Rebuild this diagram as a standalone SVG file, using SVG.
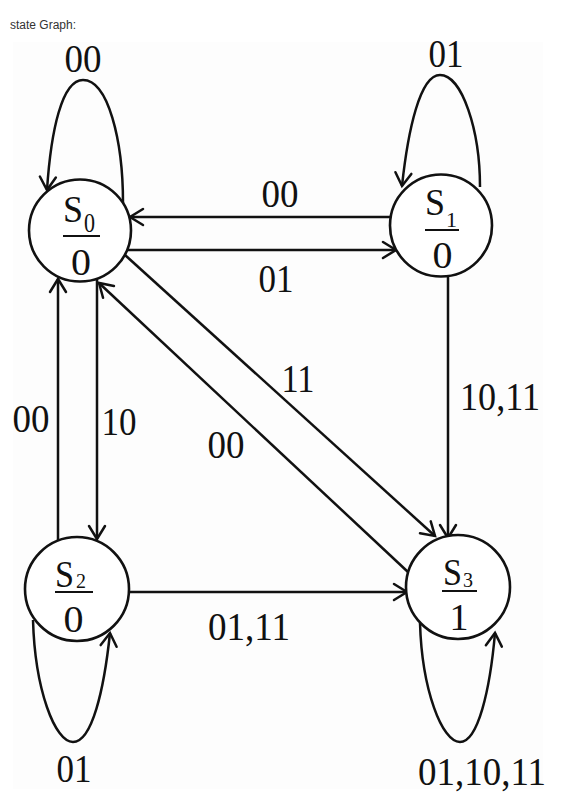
<svg xmlns="http://www.w3.org/2000/svg" width="572" height="803" viewBox="0 0 572 803">
<style>
.title{font-family:"Liberation Sans",Arial,sans-serif;font-size:12px;fill:#333}
.node circle{fill:#fff;stroke:#111;stroke-width:2.6}
.node line{stroke:#111;stroke-width:1.8}
.big{font-family:"Liberation Serif","Times New Roman",serif;font-size:38px;fill:#111}
.sub{font-family:"Liberation Serif","Times New Roman",serif;fill:#111}
.lbl{font-family:"Liberation Serif","Times New Roman",serif;font-size:40px;fill:#111;text-anchor:middle}
.edge{fill:none;stroke:#111;stroke-width:2.5;marker-end:url(#arr)}
</style>
<defs>
<marker id="arr" markerUnits="userSpaceOnUse" viewBox="-16 -10 18 20" refX="0" refY="0" markerWidth="18" markerHeight="20" orient="auto" overflow="visible">
<path d="M-13,-8 L0,0 L-13,8" fill="none" stroke="#111" stroke-width="2.5" stroke-linecap="round" stroke-linejoin="miter"/>
</marker>
</defs>
<rect width="572" height="803" fill="#fff"/>
<rect x="13" y="42" width="530" height="747" fill="#fdfdfd"/>
<text class="title" x="10" y="29">state Graph:</text>

<g id="connectors">
<path id="e-s0-loop" class="edge" d="M123,203 C123,140 108,80 83,80 C62,80 51,130 47,190"/>
<path id="e-s1-loop" class="edge" d="M480,187 C480,130 462,75 440,75 C420,75 408,130 402,186"/>
<path id="e-s1-s0" class="edge" d="M392,217 L130,217"/>
<path id="e-s0-s1" class="edge" d="M127,250 L396,250"/>
<path id="e-s1-s3" class="edge" d="M448,276 L448,538"/>
<path id="e-s0-s3" class="edge" d="M125,255 L435,536"/>
<path id="e-s3-s0" class="edge" d="M408,572 L99,283"/>
<path id="e-s2-s0" class="edge" d="M58,540 L58,279"/>
<path id="e-s0-s2" class="edge" d="M97,279 L97,539"/>
<path id="e-s2-s3" class="edge" d="M129,592 L407,592"/>
<path id="e-s2-loop" class="edge" d="M33,620 C35,690 55,742 73,742 C92,742 104,690 110,633"/>
<path id="e-s3-loop" class="edge" d="M420,623 C422,690 442,742 460,742 C478,742 490,690 495,633"/>
<text class="lbl" x="83" y="72" textLength="37" lengthAdjust="spacingAndGlyphs">00</text>
<text class="lbl" x="446" y="67" textLength="35" lengthAdjust="spacingAndGlyphs">01</text>
<text class="lbl" x="280" y="207" textLength="37" lengthAdjust="spacingAndGlyphs">00</text>
<text class="lbl" x="276" y="292" textLength="35" lengthAdjust="spacingAndGlyphs">01</text>
<text class="lbl" x="500" y="410" textLength="80" lengthAdjust="spacingAndGlyphs">10,11</text>
<text class="lbl" x="298" y="392" textLength="33" lengthAdjust="spacingAndGlyphs">11</text>
<text class="lbl" x="226" y="458" textLength="37" lengthAdjust="spacingAndGlyphs">00</text>
<text class="lbl" x="31" y="432" textLength="37" lengthAdjust="spacingAndGlyphs">00</text>
<text class="lbl" x="119" y="435" textLength="35" lengthAdjust="spacingAndGlyphs">10</text>
<text class="lbl" x="249" y="640" textLength="82" lengthAdjust="spacingAndGlyphs">01,11</text>
<text class="lbl" x="74" y="782" textLength="35" lengthAdjust="spacingAndGlyphs">01</text>
<text class="lbl" x="482" y="785" textLength="128" lengthAdjust="spacingAndGlyphs">01,10,11</text>
</g>

<g id="S0" class="node">
<circle cx="80" cy="230.5" r="51"/>
<text class="big" x="63" y="222" textLength="20" lengthAdjust="spacingAndGlyphs">S</text>
<text class="sub" x="84" y="232" font-size="28" textLength="11" lengthAdjust="spacingAndGlyphs">0</text>
<line x1="63" y1="236" x2="100" y2="236"/>
<text class="big" x="81" y="275" text-anchor="middle" textLength="20" lengthAdjust="spacingAndGlyphs">0</text>
</g>
<g id="S1" class="node">
<circle cx="441" cy="225.5" r="51"/>
<text class="big" x="425" y="215" textLength="20" lengthAdjust="spacingAndGlyphs">S</text>
<text class="sub" x="446" y="227" font-size="22">1</text>
<line x1="425" y1="230" x2="459" y2="230"/>
<text class="big" x="442.5" y="268" text-anchor="middle" textLength="20" lengthAdjust="spacingAndGlyphs">0</text>
</g>
<g id="S2" class="node">
<circle cx="77" cy="589" r="52"/>
<text class="big" x="55" y="587" textLength="19" lengthAdjust="spacingAndGlyphs">S</text>
<text class="sub" x="76" y="588" font-size="20">2</text>
<line x1="55" y1="592" x2="93" y2="592"/>
<text class="big" x="73.5" y="632" text-anchor="middle" textLength="20" lengthAdjust="spacingAndGlyphs">0</text>
</g>
<g id="S3" class="node">
<circle cx="458" cy="587" r="52"/>
<text class="big" x="443" y="585" textLength="19" lengthAdjust="spacingAndGlyphs">S</text>
<text class="sub" x="463" y="587" font-size="20">3</text>
<line x1="442" y1="591" x2="477" y2="591"/>
<text class="big" x="459" y="630" text-anchor="middle">1</text>
</g>
</svg>
